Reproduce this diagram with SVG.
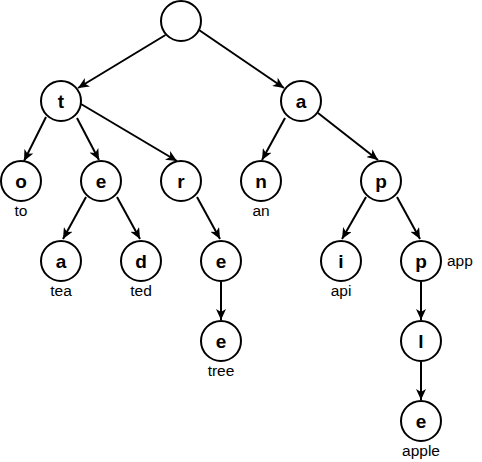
<svg xmlns="http://www.w3.org/2000/svg" width="482" height="462" viewBox="0 0 482 462">
<defs>
<style>
.node circle{fill:#fff;stroke:#000;stroke-width:2}
.node text{font-family:"Liberation Sans",Arial,Helvetica,sans-serif;font-weight:bold;font-size:19px;text-anchor:middle;fill:#000}
.node text.lbl{font-weight:normal;font-size:15.5px}
.node text.lbl.side{text-anchor:start}
.edges line{stroke:#000;stroke-width:2;marker-end:url(#arr)}
</style>
<marker id="arr" markerUnits="userSpaceOnUse" markerWidth="12" markerHeight="10" refX="11" refY="5" orient="auto">
<path d="M0,0 L11,5 L0,10 L3,5 Z" fill="#000"/>
</marker>
</defs>
<rect width="482" height="462" fill="#fff"/>
<g class="edges">
<line x1="165.5" y1="35" x2="78" y2="88"/>
<line x1="199" y1="30" x2="284" y2="88"/>
<line x1="46" y1="117" x2="24" y2="161"/>
<line x1="77" y1="118" x2="99" y2="160"/>
<line x1="81" y1="104" x2="177" y2="161"/>
<line x1="86" y1="197" x2="63" y2="239"/>
<line x1="117" y1="197" x2="140" y2="239"/>
<line x1="197" y1="197" x2="220" y2="239"/>
<line x1="285" y1="118" x2="262" y2="160"/>
<line x1="318" y1="113" x2="378" y2="160"/>
<line x1="366" y1="197" x2="342" y2="239"/>
<line x1="397" y1="197" x2="420" y2="239"/>
<line x1="221" y1="281" x2="221" y2="320"/>
<line x1="421" y1="281" x2="421" y2="320"/>
<line x1="421" y1="361" x2="421" y2="400"/>
</g>
<g id="root" class="node"><circle cx="181" cy="21" r="20"/></g>
<g id="t" class="node"><circle cx="61" cy="101" r="20"/><text x="61" y="108">t</text></g>
<g id="a" class="node"><circle cx="301" cy="101" r="20"/><text x="301" y="108">a</text></g>
<g id="o" class="node"><circle cx="21" cy="181" r="20"/><text x="21" y="188">o</text><text class="lbl" x="21" y="215.5">to</text></g>
<g id="e1" class="node"><circle cx="101" cy="181" r="20"/><text x="101" y="188">e</text></g>
<g id="r" class="node"><circle cx="181" cy="181" r="20"/><text x="181" y="188">r</text></g>
<g id="n" class="node"><circle cx="261" cy="181" r="20"/><text x="261" y="188">n</text><text class="lbl" x="261" y="215.5">an</text></g>
<g id="p1" class="node"><circle cx="381" cy="181" r="20"/><text x="381" y="188">p</text></g>
<g id="a2" class="node"><circle cx="61" cy="261" r="20"/><text x="61" y="268">a</text><text class="lbl" x="61" y="295.5">tea</text></g>
<g id="d" class="node"><circle cx="141" cy="261" r="20"/><text x="141" y="268">d</text><text class="lbl" x="141" y="295.5">ted</text></g>
<g id="e2" class="node"><circle cx="221" cy="261" r="20"/><text x="221" y="268">e</text></g>
<g id="i" class="node"><circle cx="341" cy="261" r="20"/><text x="341" y="268">i</text><text class="lbl" x="341" y="295.5">api</text></g>
<g id="p2" class="node"><circle cx="421" cy="261" r="20"/><text x="421" y="268">p</text><text class="lbl side" x="447" y="266">app</text></g>
<g id="e3" class="node"><circle cx="221" cy="341" r="20"/><text x="221" y="348">e</text><text class="lbl" x="221" y="375.5">tree</text></g>
<g id="l" class="node"><circle cx="421" cy="341" r="20"/><text x="421" y="348">l</text></g>
<g id="e4" class="node"><circle cx="421" cy="421" r="20"/><text x="421" y="428">e</text><text class="lbl" x="421" y="455.5">apple</text></g>
</svg>
